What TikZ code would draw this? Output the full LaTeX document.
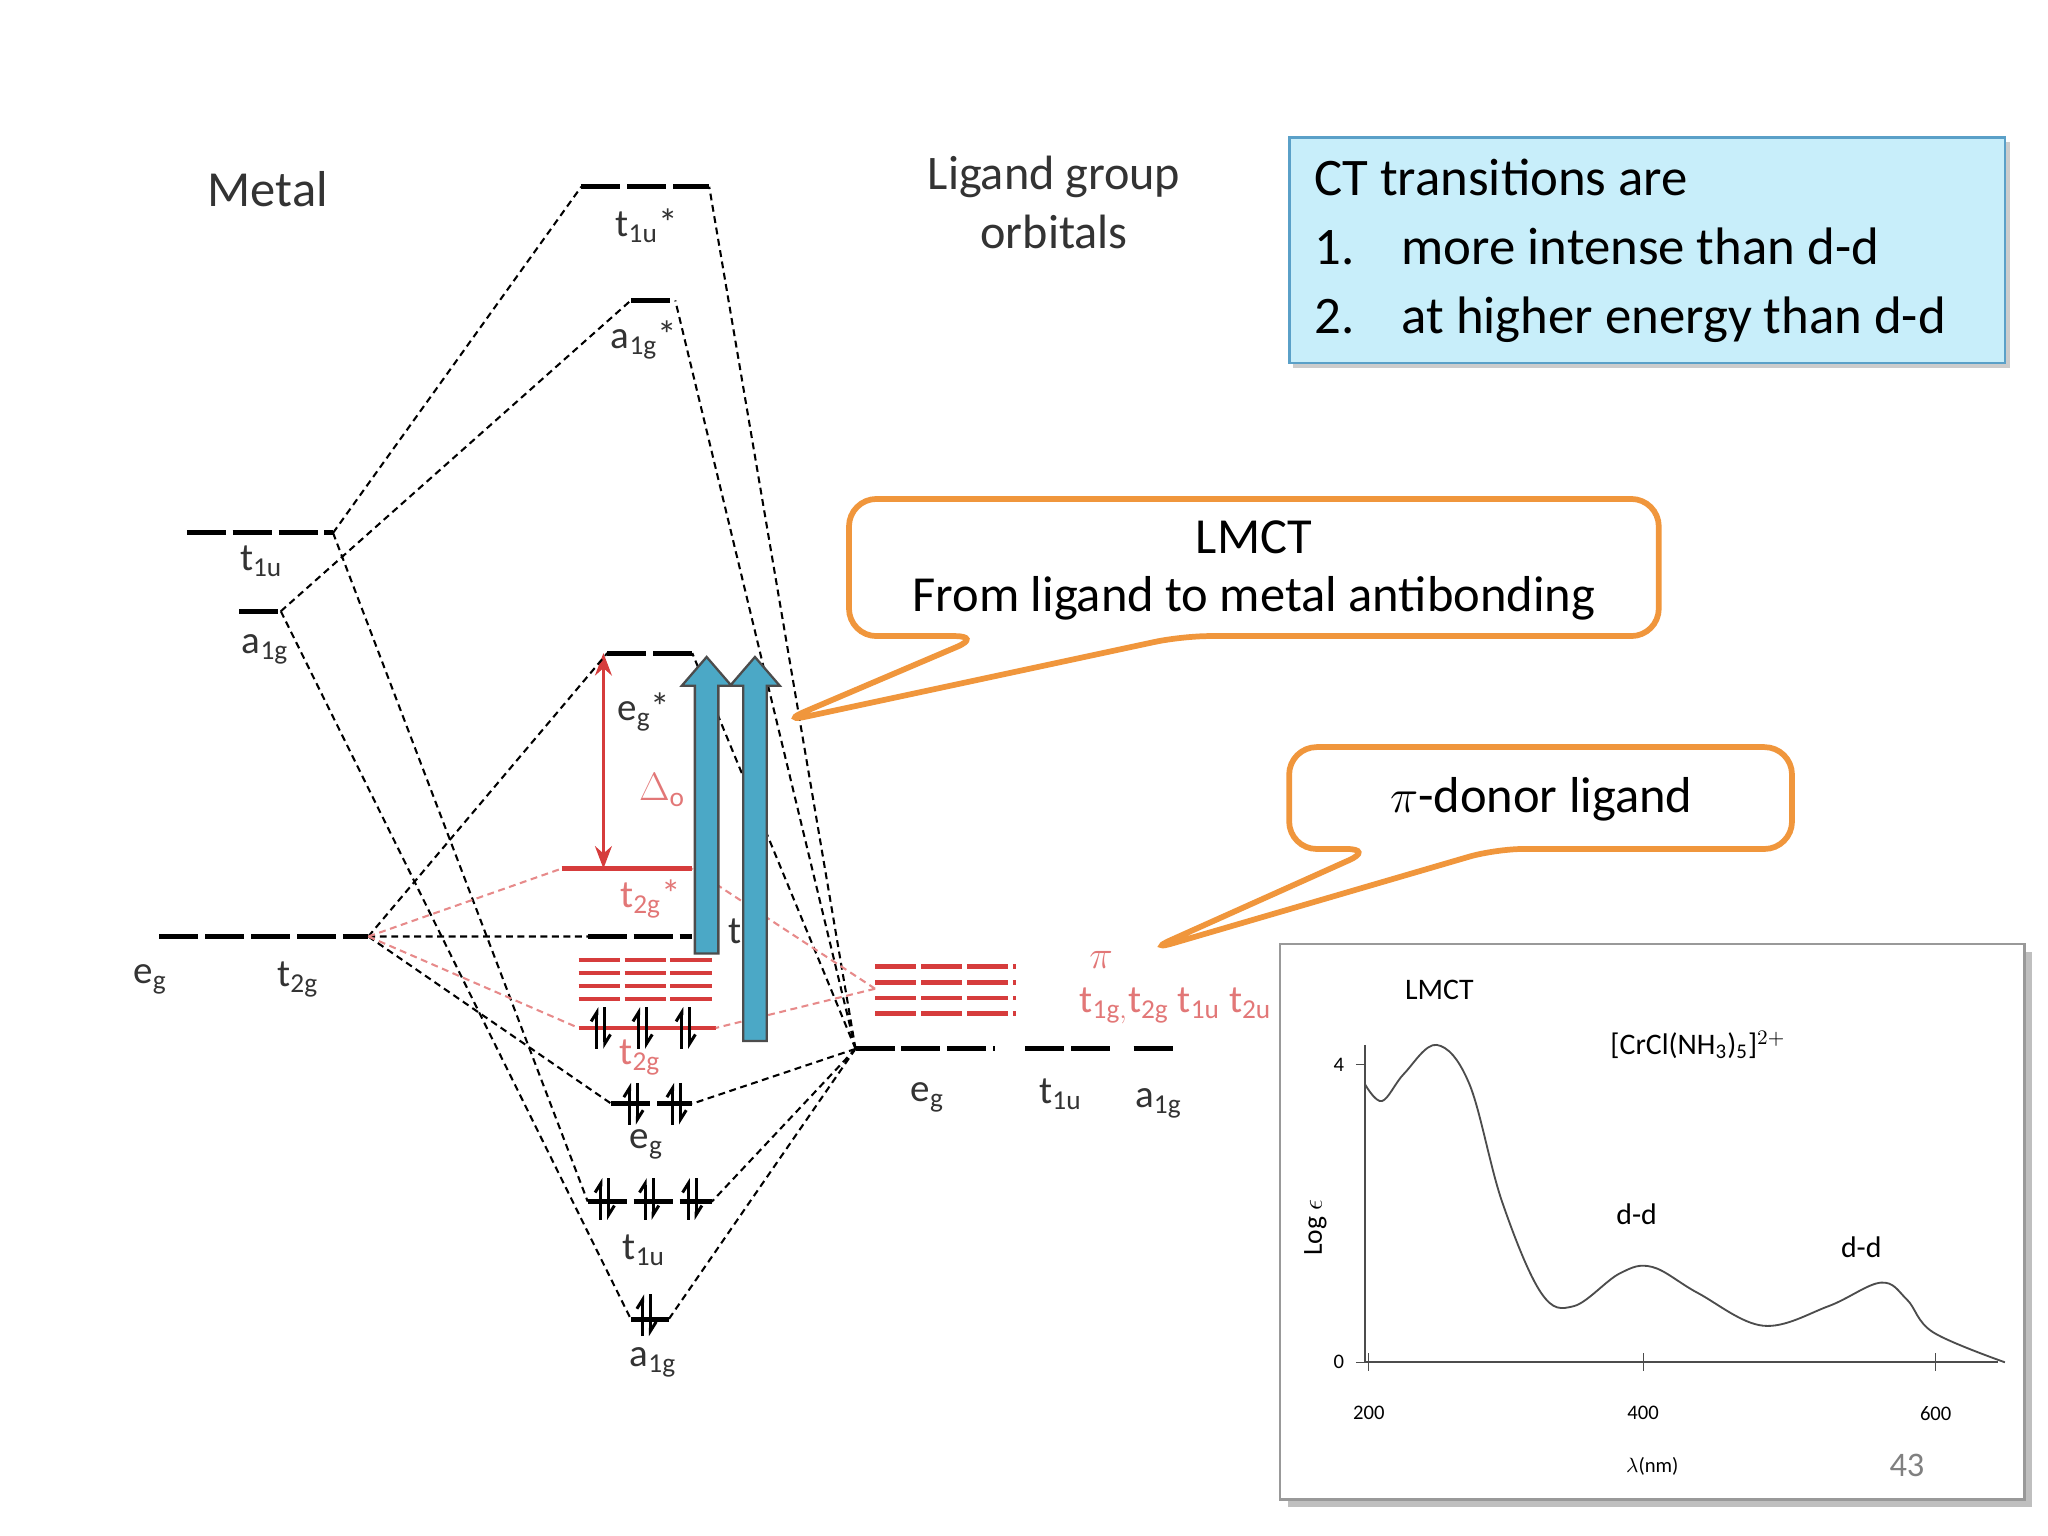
\documentclass[tikz,border=0pt]{standalone}
\usepackage{fontspec}
\setmainfont{Carlito}
\usetikzlibrary{arrows.meta}
\definecolor{lvred}{RGB}{214,60,60}
\definecolor{boxcyan}{RGB}{200,238,250}
\definecolor{boxblue}{RGB}{90,160,200}
\definecolor{callorange}{RGB}{240,150,60}
\definecolor{ctblue}{RGB}{75,168,198}
\newcommand{\sbs}[1]{$_{\mathrm{#1}}$}
\begin{document}
\begin{tikzpicture}[x=0.02cm,y=-0.02cm,
    level/.style={line width=2.2pt,dash pattern=on 17pt off 3pt},
    redlevel/.style={lvred,line width=2pt},
    corr/.style={densely dashed,line width=0.9pt},
    redcorr/.style={densely dashed,lvred!60,line width=0.9pt},
    lab/.style={font=\fontsize{17}{18}\selectfont,text=black!80},
    elec/.style={line width=1.3pt,-{Straight Barb[left,length=4pt,width=5pt]}},
    ctarrow/.style={fill=ctblue,draw=black!70,line width=1pt},
    callout/.style={draw=callorange,line width=2.5pt,fill=white,rounded corners=12pt}]
\useasboundingbox (0,0) rectangle (1568,1176);

% metal side
\node[font=\fontsize{22}{24}\selectfont,text=black!80] (metal) at (205,145) {Metal};
\node[font=\fontsize{21}{26}\selectfont,text=black!80,align=center] (lgo) at (807,155) {Ligand group\\orbitals};
\draw[level] (143,408) coordinate (mt1uL) -- (255,408) coordinate (mt1u);
\draw[level] (183,468) -- (215,468) coordinate (ma1g);
\draw[level] (122,717) -- (282,717) coordinate (md);
\node[lab] (lmt1u) at (200,430) {t\sbs{1u}};
\node[lab] (lma1g) at (203,497) {a\sbs{1g}};
\node[lab] (lmeg) at (115,750) {e\sbs{g}};
\node[lab] (lmt2g) at (228,750) {t\sbs{2g}};

% molecular orbitals
\draw[level] (445,143) coordinate (t1usL) -- (543,143) coordinate (t1usR);
\draw[level] (483,230) coordinate (a1gsL) -- (517,230) coordinate (a1gsR);
\draw[level] (465,500) coordinate (egsL) -- (530,500) coordinate (egsR);
\draw[redlevel] (430,665) coordinate (t2gsL) -- (530,665) coordinate (t2gsR);
\draw[level] (450,717) coordinate (t2gnL) -- (530,717);
\foreach \y in {735,745,755,765} \draw[redlevel,dash pattern=on 18pt off 2pt] (443,\y) -- (548,\y);
\draw[redlevel] (443,787) coordinate (t2gL) -- (548,787) coordinate (t2gR);
\draw[level] (468,845) coordinate (egL) -- (530,845) coordinate (egR);
\draw[level] (450,920) coordinate (t1uL) -- (545,920) coordinate (t1uR);
\draw[level] (483,1010) coordinate (a1gL) -- (512,1010) coordinate (a1gR);
\node[lab] (lt1us) at (495,173) {t\sbs{1u}*};
\node[lab] (la1gs) at (493,260) {a\sbs{1g}*};
\node[lab] (legs) at (493,545) {e\sbs{g}*};
\node[lab,text=lvred!70] (lt2gs) at (498,688) {t\sbs{2g}*};
\node[lab] (lt) at (563,713) {t};
\node[lab,text=lvred!70] (lt2g) at (490,810) {t\sbs{2g}};
\node[lab] (leg) at (495,876) {e\sbs{g}};
\node[lab] (lt1u) at (493,957) {t\sbs{1u}};
\node[lab] (la1g) at (500,1043) {a\sbs{1g}};
\node[lab,text=lvred!70] (ldo) at (507,605) {$\Delta_{\rm o}$};
\draw[lvred,line width=1.5pt,{Stealth}-{Stealth}] (462,500) -- (462,665);

% electrons
\foreach \x/\y in {460/787,492/787,525/787,485/845,518/845,463/918,497/918,530/918,495/1007}{
  \draw[elec] (\x-3,\y+16) -- (\x-3,\y-16);
  \draw[elec] (\x+3,\y-16) -- (\x+3,\y+16);
}

% ligand orbitals
\foreach \y in {740,752,764,776} \draw[redlevel,dash pattern=on 18pt off 2pt] (670,\y) -- (778,\y);
\coordinate (pi) at (670,757);
\draw[level] (655,803) coordinate (lieg) -- (762,803);
\draw[level] (785,803) -- (850,803);
\draw[level] (868,803) -- (900,803);
\node[lab] (lleg) at (710,840) {e\sbs{g}};
\node[lab] (llt1u) at (812,838) {t\sbs{1u}};
\node[lab] (lla1g) at (887,845) {a\sbs{1g}};
\node[lab,text=lvred!70] (lpi) at (843,735) {$\pi$};
\node[lab,text=lvred!70] (lpis) at (900,770) {t\sbs{1g,}t\sbs{2g} t\sbs{1u} t\sbs{2u}};

% correlation lines
\draw[corr] (mt1u) -- (t1usL) (mt1u) -- (t1uL);
\draw[corr] (ma1g) -- (a1gsL) (ma1g) -- (a1gL);
\draw[corr] (md) -- (egsL) (md) -- (egL) (md) -- (t2gnL);
\draw[redcorr] (md) -- (t2gsL) (md) -- (t2gL);
\draw[corr] (lieg) -- (t1usR) (lieg) -- (a1gsR) (lieg) -- (egsR) (lieg) -- (egR) (lieg) -- (t1uR) (lieg) -- (a1gR);
\draw[redcorr] (pi) -- (t2gsR) (pi) -- (t2gR);

% CT arrows
\draw[ctarrow] (532,730) -- (532,525) -- (522,525) -- (541,503) -- (560,525) -- (550,525) -- (550,730) -- cycle;
\draw[ctarrow] (569,797) -- (569,525) -- (559,525) -- (578,503) -- (597,525) -- (587,525) -- (587,797) -- cycle;

% CT box
\fill[black!20] (990,109) rectangle (1539,282);
\draw[boxblue,line width=1.2pt,fill=boxcyan] (987,105) rectangle (1535,278);
\node[anchor=west,font=\fontsize{23}{30}\selectfont,align=left] (cttext) at (1000,192)
  {CT transitions are\\1.\hspace{0.9em}more intense than d-d\\2.\hspace{0.9em}at higher energy than d-d};

% callouts
\draw[callout] (752,487) -- (597,553) -- (905,487) -- (1270,487) -- (1270,382) -- (650,382) -- (650,487) -- cycle;
\node[font=\fontsize{22}{26}\selectfont] (lmct) at (960,411) {LMCT};
\node[font=\fontsize{22}{26}\selectfont] (lmct2) at (960,458) {From ligand to metal antibonding};
\draw[callout] (1052,650) -- (878,728) -- (1145,650) -- (1372,650) -- (1372,572) -- (987,572) -- (987,650) -- cycle;
\node[font=\fontsize{22}{26}\selectfont] (pid) at (1180,612) {$\pi$-donor ligand};

% inset spectrum
\fill[black!25] (986,729) rectangle (1556,1154);
\draw[black!40,fill=white,line width=1pt] (980,723) rectangle (1550,1148);
\draw[black!70,line width=0.8pt] (1045,800) -- (1045,1043) -- (1530,1043);
\foreach \y/\t in {815/4,1043/0}{\draw[black!70] (1038,\y) -- (1045,\y); \node[font=\fontsize{9}{10}\selectfont] at (1025,\y) {\t};}
\foreach \x/\t in {1048/200,1258/400,1482/600}{\draw[black!70] (\x,1036) -- (\x,1050); \node[font=\fontsize{9}{10}\selectfont] at (\x,1082) {\t};}
\draw[black!70,line width=0.8pt] plot[smooth,tension=0.6] coordinates {(1045,830) (1058,843) (1075,822) (1100,800) (1125,830) (1150,920) (1180,990) (1205,1000) (1240,975) (1265,970) (1300,990) (1350,1015) (1400,1000) (1440,982) (1460,995) (1480,1020) (1535,1043)};
\node[font=\fontsize{12}{13}\selectfont,rotate=90] (loge) at (1007,940) {Log $\epsilon$};
\node[font=\fontsize{9}{10}\selectfont] (lam) at (1265,1123) {$\lambda$(nm)};
\node[font=\fontsize{13}{14}\selectfont] (plmct) at (1102,758) {LMCT};
\node[font=\fontsize{13}{14}\selectfont] (cplx) at (1300,800) {[CrCl(NH\sbs{3})\sbs{5}]$^{2+}$};
\node[font=\fontsize{13}{14}\selectfont] (dd1) at (1253,930) {d-d};
\node[font=\fontsize{13}{14}\selectfont] (dd2) at (1425,955) {d-d};
\node[font=\fontsize{15}{16}\selectfont,text=black!50] (pg) at (1460,1122) {43};
\end{tikzpicture}
\end{document}
